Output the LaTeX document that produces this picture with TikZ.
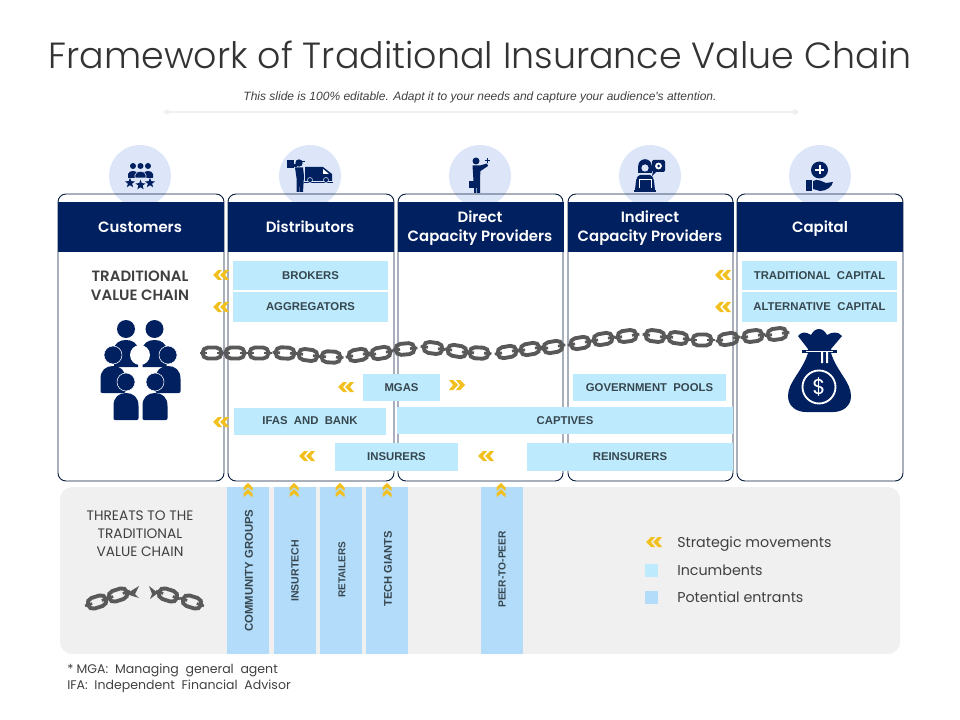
\documentclass[tikz,border=0pt]{standalone}
\usepackage{fontspec}
\setmainfont{Poppins}
\newfontfamily\boxfont{Liberation Sans}
\newfontfamily\titlefont{Poppins Light}
\newfontfamily\headfont{Poppins SemiBold}
\usetikzlibrary{shapes.geometric}

\definecolor{navy}{HTML}{002060}
\definecolor{framecol}{HTML}{0B1F3F}
\definecolor{halo}{HTML}{DDE6F9}
\definecolor{incumbent}{HTML}{BDEBFD}
\definecolor{entrant}{HTML}{B3DCFB}
\definecolor{gold}{HTML}{F2C01E}
\definecolor{panel}{HTML}{F0F0F0}
\definecolor{linkcol}{HTML}{595959}
\definecolor{inkcol}{HTML}{404040}
\definecolor{boxink}{HTML}{37474F}

\tikzset{
	incbox/.style={fill=incumbent,inner sep=0pt,font=\boxfont\bfseries\fontsize{8.5}{10}\selectfont,text=boxink},
	stripbox/.style={fill=entrant,inner sep=0pt,rotate=90,minimum width=125.25pt,minimum height=31.5pt},
	striptext/.style={inner sep=0pt,rotate=90,anchor=west,text=boxink,font=\boxfont\bfseries\fontsize{#1}{10}\selectfont},
	headbox/.style={fill=navy,inner sep=0pt,minimum width=124.5pt,minimum height=37.5pt},
	headtext/.style={inner sep=0pt,align=center,text=white,font=\headfont\fontsize{11.2}{14.2}\selectfont},
	plaintext/.style={inner sep=0pt,text=inkcol,font=\fontsize{10.7}{13.5}\selectfont},
	chevleft/.pic={
		\fill[gold] (-8,0) -- (-3,-5) -- (1,-5) -- (-3,0) -- (1,5) -- (-3,5) -- cycle;
		\fill[gold] (-1,0) -- (4,-5) -- (8,-5) -- (4,0) -- (8,5) -- (4,5) -- cycle;
	},
	chainlink/.pic={
		\draw[linkcol,line width=2.9pt,rounded corners=4pt] (-9.5,-5.5) rectangle (9.5,5.5);
		\draw[linkcol,line width=2pt] (-12.5,0) -- (-5,0) (5,0) -- (12.5,0);
	},
}

\begin{document}
\begin{tikzpicture}[x=0.75pt,y=-0.75pt]
	\useasboundingbox (0,0) rectangle (960,720);

	\node[inner sep=0pt,text=black!80,font=\titlefont\fontsize{27.3}{30}\selectfont] (title) at (480,55) {Framework of Traditional Insurance Value Chain};
	\node[inner sep=0pt,text=inkcol,font=\boxfont\itshape\fontsize{9}{10}\selectfont] (subtitle) at (480,97) {This slide is 100\% editable. Adapt it to your needs and capture your audience's attention.};
	\draw[gray!12,thick] (167,112) -- (795,112);
	\fill[gray!12] (163,112) -- (167,109) -- (171,112) -- (167,115) -- cycle;
	\fill[gray!12] (791,112) -- (795,109) -- (799,112) -- (795,115) -- cycle;

	% the five columns
	\foreach \cx in {140,310,480,650,820}
		\fill[halo] (\cx,176) circle (31);
	\foreach \lx/\rx in {58/224,228/394,398/563,568/733,737/903}
		\draw[framecol,line width=0.7pt,rounded corners=6pt] (\lx,194) rectangle (\rx,481);

	\node[headbox] (customers) at (141,227) {};
	\node[headbox] (distributors) at (311,227) {};
	\node[headbox] (direct) at (480.5,227) {};
	\node[headbox] (indirect) at (650.5,227) {};
	\node[headbox] (capital) at (820,227) {};
	\node[headtext,anchor=base] (customerstext) at (140,233) {Customers};
	\node[headtext,anchor=base] (distributorstext) at (310,233) {Distributors};
	\node[headtext,anchor=base] (capitaltext) at (820,233) {Capital};
	\node[headtext] (directtext) at (480,228) {Direct\\Capacity Providers};
	\node[headtext] (indirecttext) at (650,228) {Indirect\\Capacity Providers};

	\node[plaintext,align=center,font=\headfont\fontsize{11.2}{14.2}\selectfont] (tradchain) at (140,285.5) {TRADITIONAL\\VALUE CHAIN};

	% incumbents
	\node[incbox,minimum width=116.25pt,minimum height=21.75pt] (brokers) at (310.5,275.5) {BROKERS};
	\node[incbox,minimum width=116.25pt,minimum height=22.5pt] (aggregators) at (310.5,307) {AGGREGATORS};
	\node[incbox,minimum width=116.25pt,minimum height=21.75pt] (tradcap) at (819.5,275.5) {TRADITIONAL\ \ CAPITAL};
	\node[incbox,minimum width=116.25pt,minimum height=22.5pt] (altcap) at (819.5,307) {ALTERNATIVE\ \ CAPITAL};
	\node[incbox,minimum width=57.75pt,minimum height=20.25pt] (mgas) at (401.5,387.5) {MGAS};
	\node[incbox,minimum width=114.75pt,minimum height=20.25pt] (govpools) at (649.5,387.5) {GOVERNMENT\ \ POOLS};
	\node[incbox,minimum width=114pt,minimum height=20.25pt] (ifas) at (310,421) {IFAS\ \ AND\ \ BANK};
	\node[incbox,minimum width=252pt,minimum height=20.25pt] (captives) at (565,420.5) {CAPTIVES};
	\node[incbox,minimum width=92.25pt,minimum height=21pt] (insurers) at (396.5,456.5) {INSURERS};
	\node[incbox,minimum width=154.5pt,minimum height=21pt] (reinsurers) at (630,456.5) {REINSURERS};

	% threats panel
	\fill[panel,rounded corners=9pt] (60,487) rectangle (900,654);
	\node[stripbox] (community) at (248,570.5) {};
	\node[stripbox] (insurtech) at (295,570.5) {};
	\node[stripbox] (retailers) at (341,570.5) {};
	\node[stripbox] (techgiants) at (387,570.5) {};
	\node[stripbox] (peer) at (501.5,570.5) {};
	\node[striptext=8.5] (communitytext) at (249,632) {COMMUNITY GROUPS};
	\node[striptext=7.9] (insurtechtext) at (295,602) {INSURTECH};
	\node[striptext=7.5] (retailerstext) at (342,598) {RETAILERS};
	\node[striptext=8.4] (techgiantstext) at (388,607) {TECH GIANTS};
	\node[striptext=7.7] (peertext) at (502,608) {PEER-TO-PEER};

	\node[plaintext,align=center,font=\fontsize{10.3}{13.5}\selectfont] (threats) at (140,534) {THREATS TO THE\\TRADITIONAL\\VALUE CHAIN};

	% strategic movements
	\foreach \cx/\cy in {221/275,221/307,346/387,221/422,307/456,486/456,723/275,723/307,654/542}
		\pic at (\cx,\cy) {chevleft};
	\pic[rotate=180] at (457,385) {chevleft};
	\foreach \cx in {248,294,340,387,501}
		\pic[rotate=-90,scale=0.9] at (\cx,490) {chevleft};

	% the long chain
	\foreach \cx/\cy/\ang in {212/353/0,235/353/0,259/353/0,285/353/-3,308/355/-8,331/357/-3,358/355/10,381/353/10,405/349/5,433/348/-8,457/351/-10,479/353/-3,507/352/10,530/349/10,553/347/10,580/343/10,603/339/10,627/336/8,655/336/-8,678/338/-8,702/340/0,728/339/10,753/336/8,777/334/8}
		\pic[rotate=\ang] at (\cx,\cy) {chainlink};

	% broken chain
	\foreach \cx/\cy/\ang in {97/602/18,118/595/18}
		\pic[rotate=\ang] at (\cx,\cy) {chainlink};
	\foreach \cx/\cy/\ang in {168/595/-18,192/602/-18}
		\pic[rotate=\ang] at (\cx,\cy) {chainlink};
	\fill[linkcol] (126,594) -- (139,586) -- (135,594) -- (139,598) -- cycle;
	\fill[linkcol] (158,593) -- (149,586) -- (152,594) -- (150,599) -- cycle;

	% people
	\foreach \hx in {126,154.5} {
		\fill[navy] (\hx,329) circle (9);
		\fill[navy] (\hx-12,367) -- (\hx-12,350) .. controls (\hx-12,343) and (\hx-6,340) .. (\hx,340) .. controls (\hx+6,340) and (\hx+12,343) .. (\hx+12,350) -- (\hx+12,367) -- cycle;
	}
	\fill[white] (140,355) circle (10);
	\foreach \hx/\hy in {113/355,168/355,126/382,155/382} {
		\fill[navy] (\hx-12.5,\hy+36) -- (\hx-12.5,\hy+24) .. controls (\hx-12.5,\hy+15) and (\hx-7,\hy+11) .. (\hx,\hy+11) .. controls (\hx+7,\hy+11) and (\hx+12.5,\hy+15) .. (\hx+12.5,\hy+24) -- (\hx+12.5,\hy+36) .. controls (\hx+12.5,\hy+37.5) and (\hx+12,\hy+38) .. (\hx+10.5,\hy+38) -- (\hx-10.5,\hy+38) .. controls (\hx-12,\hy+38) and (\hx-12.5,\hy+37.5) .. (\hx-12.5,\hy+36) -- cycle;
		\filldraw[navy,draw=white,thin] (\hx,\hy) circle (9);
	}

	% money bag
	\fill[navy] (808,349) -- (798,336) .. controls (802,331) and (806,332) .. (811,335) .. controls (815,327) and (823,327) .. (827,335) .. controls (832,332) and (838,331) .. (842,336) -- (831,349) -- cycle;
	\fill[navy] (808,349) -- (808,353) .. controls (802,372) and (788,382) .. (788,396) .. controls (788,406) and (796,412) .. (806,412) -- (833,412) .. controls (843,412) and (851,406) .. (851,396) .. controls (851,382) and (837,372) .. (831,353) -- (831,349) -- cycle;
	\fill[navy] (802,350) rectangle (837,353);
	\fill[white] (806,350.7) rectangle (833,352.3);
	\fill[white] (821,352) rectangle (823,363) (826,352) rectangle (828,363);
	\draw[white,line width=1.4pt] (819,387) circle (16.5);
	\node[inner sep=0pt,text=white,font=\fontsize{16}{16}\selectfont] (dollar) at (819,387) {\$};

	% header icons
	\foreach \hx in {133,148} {
		\fill[navy] (\hx,166) circle (3);
		\fill[navy] (\hx-5,178) -- (\hx-5,174) .. controls (\hx-4,170) and (\hx+4,170) .. (\hx+5,174) -- (\hx+5,178) -- cycle;
	}
	\fill[navy] (140.5,166) circle (3);
	\filldraw[navy,draw=halo,thin] (135,178) -- (135,175) .. controls (136,170) and (145,170) .. (146,175) -- (146,178) -- cycle;
	\foreach \sx/\sy [count=\si] in {130/183,140.5/185,150/183}
		\node[star,star points=5,star point ratio=2.4,fill=navy,inner sep=0pt,minimum size=8pt] (custstar\si) at (\sx,\sy) {};

	% distributor and van
	\fill[navy] (287,160) rectangle (294,168);
	\fill[navy] (293,164) rectangle (297,167);
	\fill[navy] (299,163) circle (3.7);
	\fill[navy] (301,161) rectangle (305,162.5);
	\fill[navy] (295,167.5) -- (303,167.5) -- (304,176) -- (303,192) -- (299.5,192) -- (299.5,181) -- (299,192) -- (296.5,192) -- (296.5,178) -- cycle;
	\fill[navy] (305,167) -- (323,167) -- (332,174) -- (332,181) -- (305,181) -- cycle;
	\fill[white] (323,169) -- (329,174) -- (323,174) -- cycle;
	\fill[navy] (304,182) rectangle (333,183);
	\filldraw[navy,draw=halo] (310,180) circle (2.5) (326,180) circle (2.5);

	% direct provider
	\fill[navy] (476,161) circle (3.5);
	\fill[navy] (472.5,165.5) -- (480,165.5) -- (487,163.5) -- (488,166) -- (480.5,171) -- (480,178) -- (480,193) -- (476.5,193) -- (476.5,181) -- (473.5,181) -- cycle;
	\fill[navy] (469,181) rectangle (477,188.5);
	\fill[navy] (473.5,188) rectangle (476,193);
	\draw[navy,semithick] (487.5,158.5) -- (487.5,163) (485,160.5) -- (490,160.5);

	% indirect provider
	\fill[navy] (645,166) circle (6.8);
	\fill[navy] (638,166) rectangle (652,173);
	\fill[halo] (645,168) circle (3.6);
	\fill[navy] (640,175) .. controls (636,176) and (636,181) .. (635,190) -- (655,190) .. controls (654,181) and (654,176) .. (650,175) -- cycle;
	\fill[navy] (634,190) rectangle (656,192);
	\fill[white] (638.5,179) rectangle (651.5,188.5);
	\fill[navy] (639.5,180) rectangle (650.5,188.5);
	\fill[navy,rounded corners=1pt] (652,160) rectangle (665,172);
	\fill[navy] (653,171) -- (652,176) -- (657,171) -- cycle;
	\fill[white] (658.5,166) circle (3.4);
	\fill[navy] (658.5,166) circle (1.5);

	% capital
	\fill[navy] (819.5,170) circle (8.5);
	\draw[white,line width=1.5pt] (815,170) -- (824,170) (819.5,165.5) -- (819.5,174.5);
	\fill[navy] (806,180) rectangle (812,191);
	\fill[navy] (813,181) .. controls (817,178) and (823,182) .. (826,183) -- (833,182) .. controls (832,187) and (826,191) .. (820,191) -- (813,189) -- cycle;

	% legend
	\fill[incumbent] (645,564) rectangle (658,577);
	\fill[entrant] (645,591) rectangle (658,604);
	\node[plaintext,anchor=west] (legendmove) at (677,544) {Strategic movements};
	\node[plaintext,anchor=west] (legendinc) at (677,570.5) {Incumbents};
	\node[plaintext,anchor=west] (legendpot) at (677,597.5) {Potential entrants};

	% footnote
	\node[plaintext,anchor=west,font=\fontsize{9.4}{12}\selectfont,align=left] (notes) at (67,678.5) {* MGA:\ \ Managing\ \ general\ \ agent\\IFA:\ \ Independent\ \ Financial\ \ Advisor};
\end{tikzpicture}
\end{document}
